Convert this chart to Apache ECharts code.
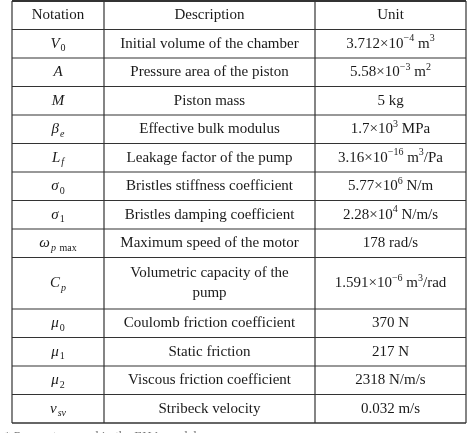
<!DOCTYPE html>
<html>
<head>
<meta charset="utf-8">
<script src="https://cdn.jsdelivr.net/npm/echarts@6/dist/echarts.min.js"></script>
<style>html,body{margin:0;padding:0;background:#fff}#main{width:474px;height:433px}</style>
</head>
<body>
<div id="main"></div>
<script>
var headers = ['Notation', 'Description', 'Unit'];
// rich-text notation, description, unit
var notations = [
    '{i|V}{sub|0}', '{i|A}', '{i|M}', '{i|β}{isub|e}', '{i|L}{isub|f}', '{i|σ}{sub|0}', '{i|σ}{sub|1}',
    '{i|ω}{isub|p}{sub| max}', '{i|C}{isub|p}', '{i|μ}{sub|0}', '{i|μ}{sub|1}', '{i|μ}{sub|2}', '{i|v}{isub|sv}'
];
var descriptions = [
    'Initial volume of the chamber', 'Pressure area of the piston', 'Piston mass',
    'Effective bulk modulus', 'Leakage factor of the pump', 'Bristles stiffness coefficient',
    'Bristles damping coefficient', 'Maximum speed of the motor', 'Volumetric capacity of the\npump',
    'Coulomb friction coefficient', 'Static friction', 'Viscous friction coefficient', 'Stribeck velocity'
];
var units = [
    '3.712×10{sup|−4} m{sup|3}', '5.58×10{sup|−3} m{sup|2}', '5 kg', '1.7×10{sup|3} MPa',
    '3.16×10{sup|−16} m{sup|3}/Pa', '5.77×10{sup|6} N/m', '2.28×10{sup|4} N/m/s', '178 rad/s',
    '1.591×10{sup|−6} m{sup|3}/rad', '370 N', '217 N', '2318 N/m/s', '0.032 m/s'
];
var rowLines = [1, 1, 1, 1, 1, 1, 1, 1, 2, 1, 1, 1, 1]; // rows taken by each entry

var chart = echarts.init(document.getElementById('main'));
var X = [12, 104, 315, 466];
var top0 = 1, headH = 28.5, rowH = 28.5, extraH = 23;
var font = '"Liberation Serif", "DejaVu Serif", serif';
var ink = '#1a1a1a';
var rich = {
    i: {fontStyle: 'italic', fontSize: 15, fontFamily: font, color: ink, lineHeight: 20, verticalAlign: 'middle'},
    sub: {fontSize: 10, fontFamily: font, color: ink, lineHeight: 20, verticalAlign: 'bottom', padding: [0, 0, 0, 1]},
    isub: {fontSize: 10, fontFamily: font, fontStyle: 'italic', color: ink, lineHeight: 20, verticalAlign: 'bottom', padding: [0, 0, 0, 1]},
    sup: {fontSize: 10, fontFamily: font, color: ink, lineHeight: 20, verticalAlign: 'top'}
};
var els = [];
function cellText(x, y, txt) {
    els.push({type: 'text', x: x, y: y, style: {
        text: txt, x: 0, y: 0, align: 'center', verticalAlign: 'middle',
        fontSize: 15, fontFamily: font, fill: ink, lineHeight: 20, rich: rich
    }});
}
function hline(y, w) {
    els.push({type: 'line', shape: {x1: X[0], y1: y, x2: X[3], y2: y}, style: {stroke: '#333', lineWidth: w}});
}
var y = top0;
hline(y, 2);
for (var c = 0; c < 3; c++) cellText((X[c] + X[c + 1]) / 2, y + headH / 2, headers[c]);
y += headH;
for (var r = 0; r < notations.length; r++) {
    hline(y, 1.2);
    var h = rowH + (rowLines[r] - 1) * extraH;
    var cy = y + h / 2;
    cellText((X[0] + X[1]) / 2, cy, notations[r]);
    cellText((X[1] + X[2]) / 2, cy, descriptions[r]);
    cellText((X[2] + X[3]) / 2, cy, units[r]);
    y += h;
}
hline(y, 1.6);
for (var k = 0; k < X.length; k++) {
    els.push({type: 'line', shape: {x1: X[k], y1: top0, x2: X[k], y2: y}, style: {stroke: '#333', lineWidth: 1.2}});
}
els.push({type: 'text', x: 4, y: 437, style: {text: '* Parameters used in the EHA model.', fontSize: 13, fontFamily: font, fill: '#777', verticalAlign: 'middle'}});

chart.setOption({
    backgroundColor: '#fff',
    graphic: {elements: els}
});
</script>
</body>
</html>
